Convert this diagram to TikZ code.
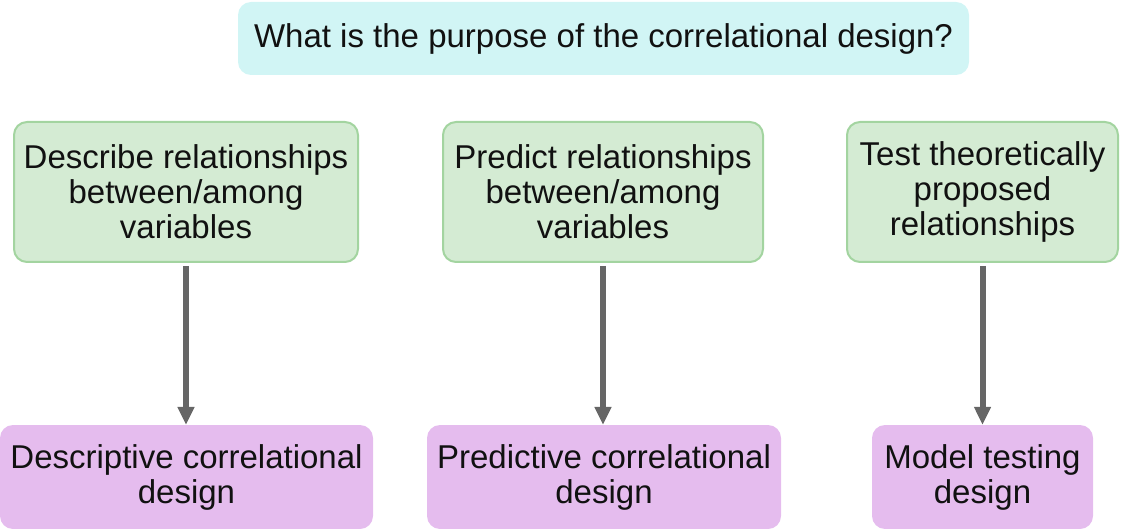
\documentclass[tikz,border=0pt]{standalone}
\usepackage{fontspec}
\setmainfont{Liberation Sans}
\usetikzlibrary{arrows.meta}
\definecolor{topfill}{HTML}{D1F5F5}
\definecolor{greenfill}{HTML}{D4EBD3}
\definecolor{greenline}{HTML}{A3D4A0}
\definecolor{purplefill}{HTML}{E5BCEE}
\definecolor{arrowgray}{HTML}{666666}
\definecolor{textcol}{HTML}{111111}
\tikzset{
  box/.style={rounded corners=13pt, inner sep=0pt, align=center, text=textcol,
    font=\fontsize{33}{35}\selectfont},
  qbox/.style={box, fill=topfill},
  purposebox/.style={box, fill=greenfill, draw=greenline, line width=2pt},
  designbox/.style={box, fill=purplefill},
  link/.style={draw=arrowgray, line width=6pt, shorten <=3pt,
    -{Triangle[length=18pt,width=16pt]}}
}
\begin{document}
\begin{tikzpicture}[x=1pt,y=-1pt]
\useasboundingbox (0,0) rectangle (1121,529);
\node[qbox, minimum width=731pt, minimum height=73pt] (q) at (603.5,38.5)
  {What is the purpose of the correlational design?};
\node[purposebox, minimum width=344pt, minimum height=140pt] (p1) at (186,192)
  {Describe relationships\\between/among\\variables};
\node[purposebox, minimum width=320pt, minimum height=140pt] (p2) at (603,192)
  {Predict relationships\\between/among\\variables};
\node[purposebox, minimum width=271pt, minimum height=140pt] (p3) at (982.5,192)
  {Test theoretically\\proposed\\relationships};
\node[designbox, minimum width=373pt, minimum height=104pt] (d1) at (186.5,477)
  {Descriptive correlational\\design};
\node[designbox, minimum width=354pt, minimum height=104pt] (d2) at (604,477)
  {Predictive correlational\\design};
\node[designbox, minimum width=221pt, minimum height=104pt] (d3) at (982.5,477)
  {Model testing\\design};
\draw[link] (p1.south) -- (p1.south |- d1.north);
\draw[link] (p2.south) -- (p2.south |- d2.north);
\draw[link] (p3.south) -- (p3.south |- d3.north);
\end{tikzpicture}
\end{document}
